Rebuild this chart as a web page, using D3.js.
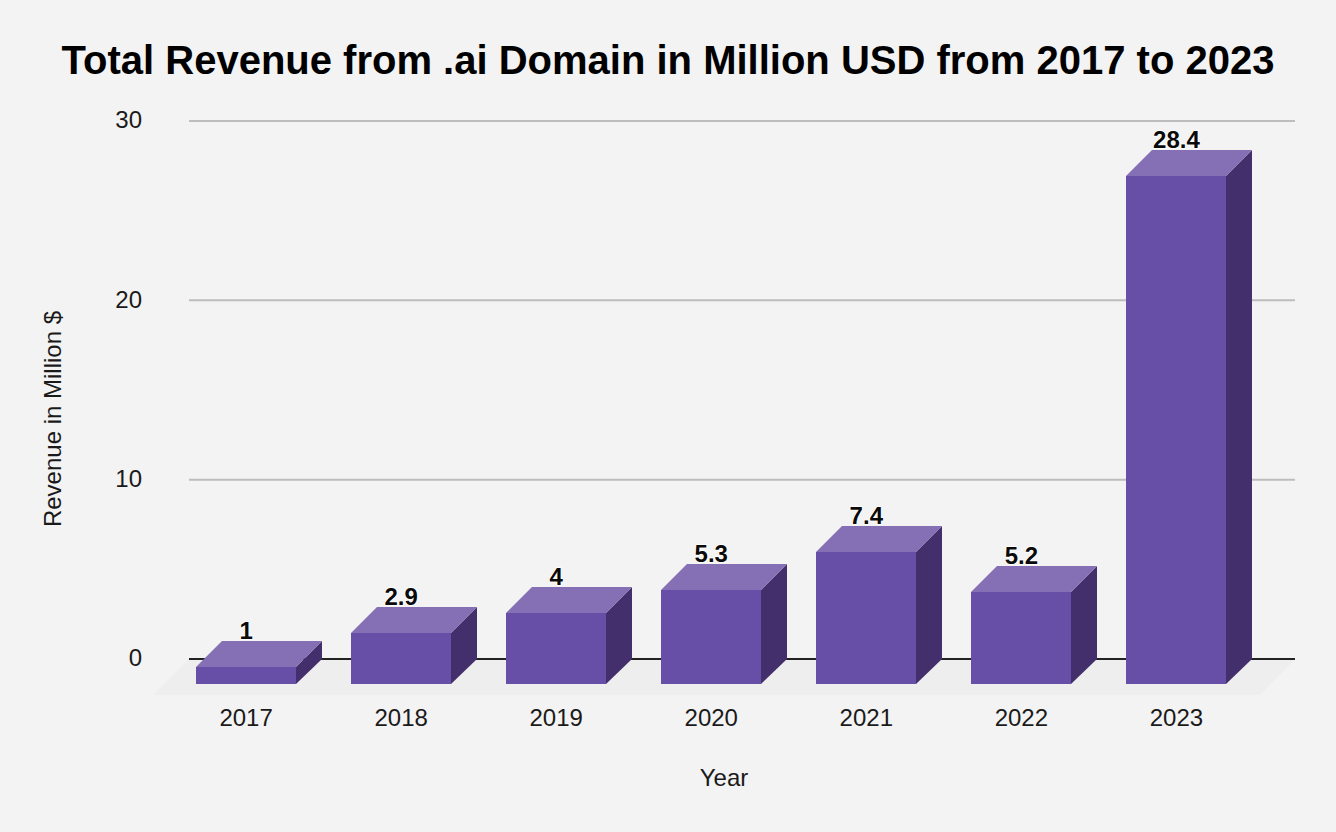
<!DOCTYPE html>
<html>
<head>
<meta charset="utf-8">
<script src="https://d3js.org/d3.v7.min.js"></script>
<style>
html, body { margin: 0; padding: 0; background: #f3f3f3; }
svg { display: block; font-family: "Liberation Sans", Arial, sans-serif; }
</style>
</head>
<body>
<div class="svg"></div>
<script>
var years = ["2017", "2018", "2019", "2020", "2021", "2022", "2023"];
var revenue = [1, 2.9, 4, 5.3, 7.4, 5.2, 28.4];
var revenueTicks = [0, 10, 20, 30];

var width = 1336,
    height = 832,
    depth = 26;

var svg = d3.select(".svg").append("svg")
    .attr("width", width)
    .attr("height", height);

svg.append("rect")
    .attr("width", width)
    .attr("height", height)
    .attr("fill", "#f3f3f3");

var x = d3.scaleBand()
    .domain(years)
    .range([168.5, 1254])
    .paddingInner(0.355)
    .paddingOuter(0.178);

var y = d3.scaleLinear()
    .domain([0, 30])
    .range([659, 121]);

// whole pixels, otherwise the zero line shows through the bar edges
function barLeft(d) { return Math.round(x(d.year)); }
function barTop(d) { return Math.round(y(d.value)) + depth; }

// floor under the bars
svg.append("path")
    .attr("d", "M189,659L1295,659L1260,695L153,695Z")
    .attr("fill", "#eeeeee");

// gridlines and tick labels
var yAxis = svg.append("g")
    .attr("transform", "translate(189,0)")
    .call(d3.axisLeft(y).tickValues(revenueTicks).tickSize(-1106).tickPadding(47).offset(0).tickFormat(d3.format("d")));
yAxis.select(".domain").remove();
yAxis.selectAll("line")
    .attr("stroke", function (d) { return d === 0 ? "#222222" : "#bdbdbd"; })
    .attr("stroke-width", 2);
yAxis.selectAll("text")
    .attr("font-size", 24)
    .attr("fill", "#1a1a1a")
    .attr("dy", "0.3em");

var xAxis = svg.append("g")
    .attr("transform", "translate(0,684)")
    .call(d3.axisBottom(x).tickSize(0).tickPadding(25).offset(0));
xAxis.select(".domain").remove();
xAxis.selectAll("text")
    .attr("font-size", 24)
    .attr("fill", "#1a1a1a");

var bars = svg.selectAll(".bar")
    .data(years.map(function (d, i) { return { year: d, value: revenue[i] }; }))
    .enter().append("g")
    .attr("class", "bar");

// side face
bars.append("path")
    .attr("fill", "#422f6b")
    .attr("d", function (d) {
        var x1 = barLeft(d) + 100, top = barTop(d);
        return "M" + x1 + "," + top + "l" + depth + "," + (-depth) + "V659L" + x1 + ",684Z";
    });

// top face
bars.append("path")
    .attr("fill", "#8570b5")
    .attr("d", function (d) {
        var x0 = barLeft(d), top = barTop(d);
        return "M" + x0 + "," + top + "l" + depth + "," + (-depth) + "h100l" + (-depth) + "," + depth + "Z";
    });

// front face
bars.append("path")
    .attr("fill", "#674ea7")
    .attr("d", function (d) {
        var x0 = barLeft(d), top = barTop(d);
        return "M" + x0 + "," + top + "h100V684H" + x0 + "Z";
    });

bars.append("text")
    .attr("x", function (d) { return x(d.year) + x.bandwidth() / 2; })
    .attr("y", function (d) { return y(d.value) - 2; })
    .attr("text-anchor", "middle")
    .attr("font-size", 24)
    .attr("font-weight", "bold")
    .attr("fill", "#0a0a0a")
    .attr("stroke", "#ffffff")
    .attr("stroke-width", 1.5)
    .attr("paint-order", "stroke")
    .text(function (d) { return d.value; });

svg.append("text")
    .attr("x", 668)
    .attr("y", 74)
    .attr("text-anchor", "middle")
    .attr("font-size", 40)
    .attr("font-weight", "bold")
    .attr("fill", "#000000")
    .text("Total Revenue from .ai Domain in Million USD from 2017 to 2023");

svg.append("text")
    .attr("x", 724)
    .attr("y", 786)
    .attr("text-anchor", "middle")
    .attr("font-size", 24)
    .attr("fill", "#1a1a1a")
    .text("Year");

svg.append("text")
    .attr("transform", "translate(61,419) rotate(-90)")
    .attr("text-anchor", "middle")
    .attr("font-size", 24)
    .attr("fill", "#1a1a1a")
    .text("Revenue in Million $");
</script>
</body>
</html>
